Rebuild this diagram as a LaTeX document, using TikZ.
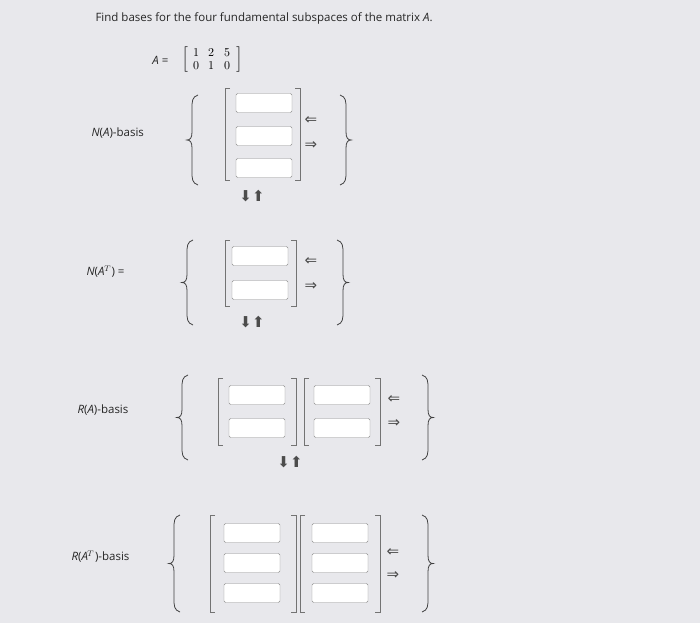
\documentclass[tikz,border=0pt]{standalone}
\usepackage{fontspec}
\setmainfont{Open Sans}
\newfontfamily\djv{DejaVu Sans}
\usepackage{unicode-math}
\tikzset{
 lbl/.style={font=\fontsize{11.5}{13}\selectfont, text=black!85},
 inbox/.style={draw=black!45, fill=white, rounded corners=1.5pt, minimum width=56pt, minimum height=19pt, inner sep=0pt},
 brk/.style={draw=black!55, line width=0.7pt},
 arr/.style={font=\djv\fontsize{15}{15}\selectfont, text=black!70},
 bracestyle/.style={draw=black!75, line width=0.8pt}
}
\newcommand{\lbr}[3]{\draw[bracestyle] (#1+6,#2) .. controls (#1,#2+2) and (#1,#2+6) .. (#1,#2+14) -- (#1,{(#2+#3)/2-8}) .. controls (#1,{(#2+#3)/2-2}) and (#1-2,{(#2+#3)/2}) .. (#1-5,{(#2+#3)/2}) .. controls (#1-2,{(#2+#3)/2}) and (#1,{(#2+#3)/2+2}) .. (#1,{(#2+#3)/2+8}) -- (#1,#3-14) .. controls (#1,#3-6) and (#1,#3-2) .. (#1+6,#3);}
\newcommand{\rbr}[3]{\draw[bracestyle] (#1-6,#2) .. controls (#1,#2+2) and (#1,#2+6) .. (#1,#2+14) -- (#1,{(#2+#3)/2-8}) .. controls (#1,{(#2+#3)/2-2}) and (#1+2,{(#2+#3)/2}) .. (#1+5,{(#2+#3)/2}) .. controls (#1+2,{(#2+#3)/2}) and (#1,{(#2+#3)/2+2}) .. (#1,{(#2+#3)/2+8}) -- (#1,#3-14) .. controls (#1,#3-6) and (#1,#3-2) .. (#1-6,#3);}
\newcommand{\vecbr}[4]{%
 \draw[brk] (#1+5,#3) -- (#1,#3) -- (#1,#4) -- (#1+5,#4);
 \draw[brk] (#2-5,#3) -- (#2,#3) -- (#2,#4) -- (#2-5,#4);}
\begin{document}
\begin{tikzpicture}[x=1pt,y=-1pt]
\fill[fill={rgb,255:red,232;green,232;blue,236}] (0,0) rectangle (700,623);
\useasboundingbox (0,0) rectangle (700,623);
\node[lbl, anchor=west] (title) at (92,18) {Find bases for the four fundamental subspaces of the matrix \textit{A}.};
\node[lbl, anchor=east] (aeq) at (172,60) {\textit{A} =};
\node[font=\fontsize{12}{13}\selectfont] (mat) at (212,60) {$\left[\begin{array}{ccc}1&2&5\\0&1&0\end{array}\right]$};
% 1
\node[lbl, anchor=west] (l1) at (88,133) {\textit{N}(\textit{A})-basis};
\lbr{192}{95}{185}
\rbr{346}{95}{185}
\vecbr{225}{300}{88}{180}
\node[inbox] (n11) at (264,103) {};
\node[inbox] (n12) at (264,136) {};
\node[inbox] (n13) at (264,168) {};
\node[arr] (a11) at (311,121) {⇐};
\node[arr] (a12) at (311,146) {⇒};
\node[arr] (a13) at (252,196) {⬇⬆};
% 2
\node[lbl, anchor=west] (l2) at (83,272) {\textit{N}(\textit{A}$^{T}$) =};
\lbr{187}{240}{325}
\rbr{343}{240}{325}
\vecbr{225}{296}{240}{306}
\node[inbox] (n21) at (260,256) {};
\node[inbox] (n22) at (260,290) {};
\node[arr] (a21) at (311,262) {⇐};
\node[arr] (a22) at (311,287) {⇒};
\node[arr] (a23) at (252,322) {⬇⬆};
% 3
\node[lbl, anchor=west] (l3) at (74,410) {\textit{R}(\textit{A})-basis};
\lbr{182}{375}{460}
\rbr{428}{375}{460}
\vecbr{218}{296}{378}{445}
\node[inbox] (n31) at (257,395) {};
\node[inbox] (n32) at (257,428) {};
\vecbr{304}{380}{378}{445}
\node[inbox] (n33) at (342,395) {};
\node[inbox] (n34) at (342,428) {};
\node[arr] (a31) at (394,400) {⇐};
\node[arr] (a32) at (394,424) {⇒};
\node[arr] (a33) at (290,462) {⬇⬆};
% 4
\node[lbl, anchor=west] (l4) at (68,557) {\textit{R}(\textit{A}$^{T}$)-basis};
\lbr{174}{515}{612}
\rbr{428}{515}{612}
\vecbr{210}{296}{515}{612}
\node[inbox] (n41) at (252,533) {};
\node[inbox] (n42) at (252,563) {};
\node[inbox] (n43) at (252,593) {};
\vecbr{300}{380}{515}{612}
\node[inbox] (n44) at (340,533) {};
\node[inbox] (n45) at (340,563) {};
\node[inbox] (n46) at (340,593) {};
\node[arr] (a41) at (393,553) {⇐};
\node[arr] (a42) at (393,576) {⇒};
\end{tikzpicture}
\end{document}
